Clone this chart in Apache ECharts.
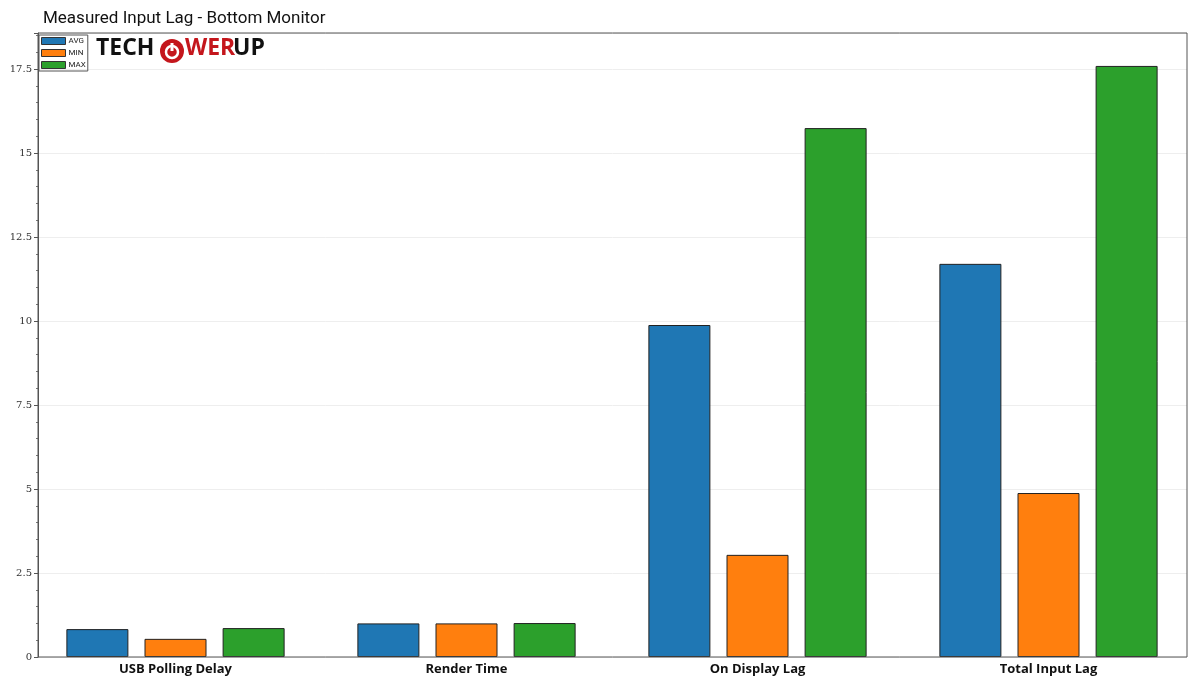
<!DOCTYPE html>
<html><head><meta charset="utf-8">
<script src="https://cdn.jsdelivr.net/npm/echarts@6/dist/echarts.min.js"></script>
<style>html,body{margin:0;padding:0;background:#fff}#c{width:1200px;height:694px}</style>
</head><body><div id="c"></div>
<script>
const categories = ['USB Polling Delay', 'Render Time', 'On Display Lag', 'Total Input Lag'];
const avgValues = [0.83, 1.0, 9.88, 11.7];
const minValues = [0.54, 1.0, 3.04, 4.88];
const maxValues = [0.86, 1.01, 15.74, 17.59];
const colors = ['#1f77b4', '#ff7f0e', '#2ca02c'];

const chart = echarts.init(document.getElementById('c'));
function s(name, data, color) {
  return { name, type: 'bar', data, xAxisIndex: 1, yAxisIndex: 1, barWidth: 62, barGap: '26%',
    itemStyle: { color, borderColor: '#222', borderWidth: 1 } };
}
chart.setOption({
  animation: false,
  title: { text: 'Measured Input Lag - Bottom Monitor', left: 38, top: 5,
    textStyle: { fontFamily: 'Roboto', fontWeight: 'normal', fontSize: 17, color: '#111' } },
  legend: { left: 39, top: 35, orient: 'vertical', itemWidth: 24, itemHeight: 7, itemGap: 4,
    padding: [2, 2, 2, 2], borderColor: '#555', borderWidth: 1, icon: 'rect',
    itemStyle: { borderColor: '#333', borderWidth: 1 },
    textStyle: { fontSize: 8, fontFamily: 'Roboto', color: '#222', padding: [0, 0, 0, -2] } },
  graphic: [
    { type: 'text', left: 96, top: 37, style: { text: 'TECH', font: 'bold 23px "Open Sans"', fill: '#111' } },
    { type: 'circle', shape: { cx: 172, cy: 51, r: 12 }, style: { fill: '#c4161c' } },
    { type: 'circle', shape: { cx: 172, cy: 52, r: 6 }, style: { fill: 'none', stroke: '#fff', lineWidth: 2.5 } },
    { type: 'rect', shape: { x: 170.5, y: 43, width: 3, height: 8 }, style: { fill: '#fff' } },
    { type: 'text', left: 185, top: 37, style: { text: 'WER', font: 'bold 23px "Open Sans"', fill: '#c4161c' } },
    { type: 'text', left: 233, top: 37, style: { text: 'UP', font: 'bold 23px "Open Sans"', fill: '#111' } },
    { type: 'rect', shape: { x: 38, y: 33, width: 1149, height: 624 }, style: { fill: 'none', stroke: '#555', lineWidth: 1 }, z: 10 }
  ],
  grid: [
    { left: 38, right: 13, top: 33, bottom: 37 },
    { left: 30, right: 6, top: 33, bottom: 37 }
  ],
  xAxis: [
    { type: 'category', gridIndex: 0, data: categories, show: false },
    { type: 'category', gridIndex: 1, data: categories,
      axisLine: { show: false },
      axisTick: { alignWithLabel: true, length: 4, lineStyle: { color: '#555' }, interval: 0 },
      axisLabel: { fontFamily: 'Open Sans', fontWeight: 'bold', fontSize: 13, color: '#111', margin: 6 } }
  ],
  yAxis: [
    { type: 'value', gridIndex: 0, min: 0, max: 18.57, interval: 2.5,
      axisLine: { show: true, lineStyle: { color: '#555' } },
      axisTick: { show: true, length: 4, lineStyle: { color: '#555' } },
      minorTick: { show: true, splitNumber: 5, length: 2, lineStyle: { color: '#777' } },
      splitLine: { lineStyle: { color: '#eee' } },
      axisLabel: { fontFamily: 'DejaVu Serif', fontSize: 10, color: '#333', margin: 6,
        formatter: v => (v > 18 ? '' : String(v)) } },
    { type: 'value', gridIndex: 1, min: 0, max: 18.57, show: false, splitLine: { show: false } }
  ],
  series: [s('AVG', avgValues, colors[0]), s('MIN', minValues, colors[1]), s('MAX', maxValues, colors[2])]
});
</script></body></html>
